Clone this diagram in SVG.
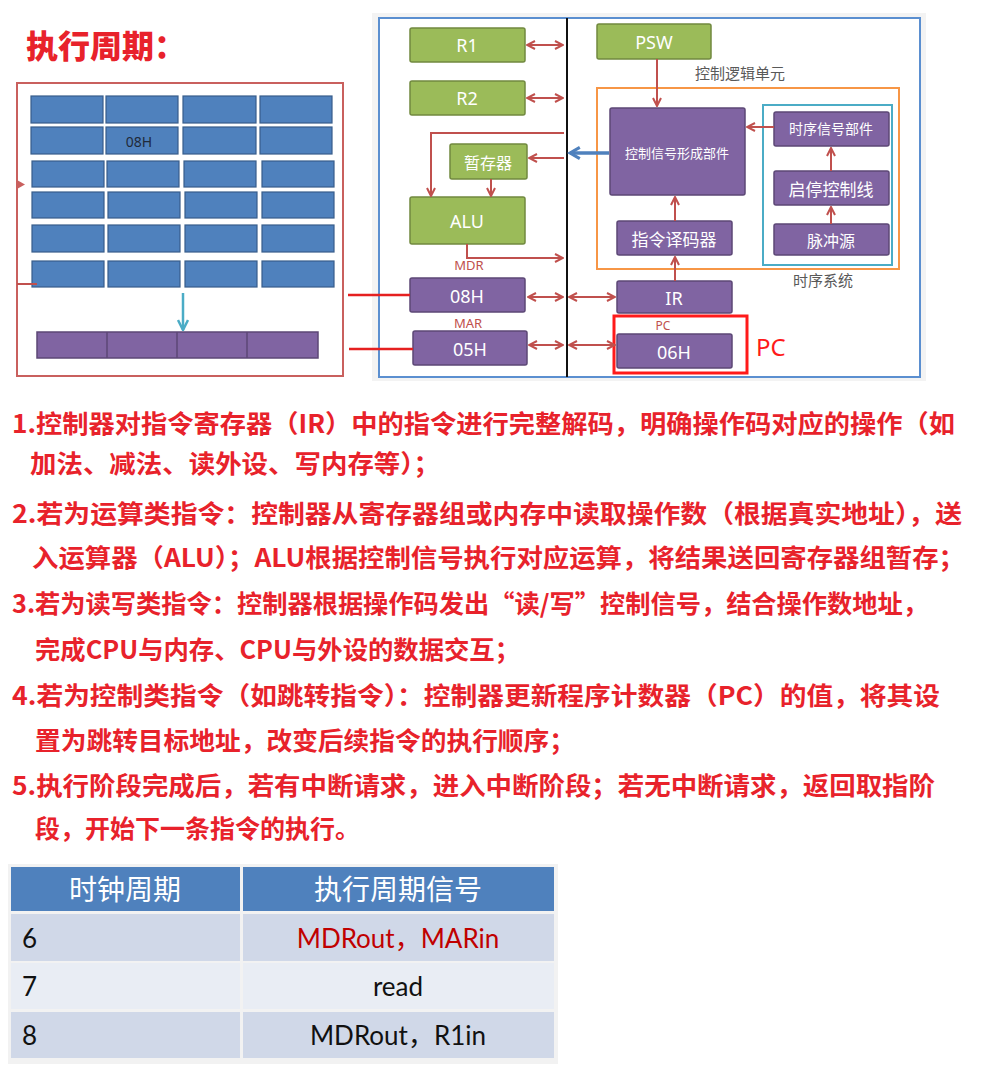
<svg xmlns="http://www.w3.org/2000/svg" width="986" height="1071" viewBox="0 0 986 1071">
<defs>
<style>
.g{fill:#9bbb59;stroke:#71893f;stroke-width:1.5}
.p{fill:#8064a2;stroke:#5c4776;stroke-width:1.5}
.b{fill:#4f81bd;stroke:#385d8a;stroke-width:1.2}
.wt{fill:#fff;font-family:"Noto Sans","Noto Sans CJK SC",sans-serif;font-size:18px;text-anchor:middle;dominant-baseline:central}
.wc{fill:#fff;font-family:"Noto Sans CJK SC",sans-serif;text-anchor:middle;dominant-baseline:central}
.lbl{fill:#c0504d;font-family:"Noto Sans",sans-serif;text-anchor:middle;dominant-baseline:central}
.gray{fill:#595959;font-family:"Noto Sans CJK SC",sans-serif;font-size:15px;dominant-baseline:central}
.ar{fill:none;stroke:#c0504d;stroke-width:2}
.para{fill:#e8222b;font-family:"Noto Sans CJK SC",sans-serif;font-weight:bold;font-size:25px}
.th{fill:#fff;font-family:"Noto Sans CJK SC",sans-serif;font-size:28px;text-anchor:middle;dominant-baseline:central}
.td{font-family:Lato,"Noto Sans","Noto Sans CJK SC",sans-serif;font-size:26px;dominant-baseline:central}
</style>
<marker id="ah" viewBox="0 0 10 10" refX="9" refY="5" markerWidth="5" markerHeight="5" orient="auto-start-reverse" markerUnits="strokeWidth">
<path d="M1,1 L9,5 L1,9" fill="none" stroke="#c0504d" stroke-width="2"/>
</marker>
<marker id="ahb" viewBox="0 0 10 10" refX="8" refY="5" markerWidth="4" markerHeight="4" orient="auto" markerUnits="strokeWidth">
<path d="M1,1 L8,5 L1,9" fill="none" stroke="#4f81bd" stroke-width="2.2"/>
</marker>
<marker id="aht" viewBox="0 0 10 10" refX="9" refY="5" markerWidth="5" markerHeight="5" orient="auto" markerUnits="strokeWidth">
<path d="M1,1 L9,5 L1,9" fill="none" stroke="#4bacc6" stroke-width="2"/>
</marker>
</defs>
<rect width="986" height="1071" fill="#fff"/>

<text x="26" y="58" fill="#e8222b" font-family="Noto Sans CJK SC,sans-serif" font-weight="900" font-size="32">执行周期：</text>

<g id="memory">
<rect x="17" y="83" width="326" height="293" fill="#fff" stroke="#c9605e" stroke-width="2"/>
<g class="b">
<rect x="31" y="96" width="72" height="27"/><rect x="106" y="96" width="72" height="27"/><rect x="183" y="96" width="73" height="27"/><rect x="260" y="96" width="72" height="27"/>
<rect x="31" y="127" width="72" height="27"/><rect x="106" y="127" width="72" height="27"/><rect x="183" y="127" width="73" height="27"/><rect x="260" y="127" width="72" height="27"/>
<rect x="32" y="161" width="72" height="26"/><rect x="107" y="161" width="72" height="26"/><rect x="184" y="161" width="72" height="26"/><rect x="262" y="161" width="72" height="26"/>
<rect x="32" y="192" width="72" height="26"/><rect x="108" y="192" width="72" height="26"/><rect x="185" y="192" width="72" height="26"/><rect x="262" y="192" width="72" height="26"/>
<rect x="32" y="225" width="72" height="27"/><rect x="108" y="225" width="72" height="27"/><rect x="185" y="225" width="72" height="27"/><rect x="262" y="225" width="72" height="27"/>
<rect x="32" y="261" width="72" height="26"/><rect x="108" y="261" width="72" height="26"/><rect x="185" y="261" width="72" height="26"/><rect x="262" y="261" width="72" height="26"/>
</g>
<text x="139" y="141" fill="#1f2a3a" font-family="Noto Sans,sans-serif" font-size="14" text-anchor="middle" dominant-baseline="central">08H</text>
<polygon points="17,180 25,184.5 17,189" fill="#c9605e"/>
<line x1="17" y1="284" x2="37" y2="284" stroke="#c0504d" stroke-width="2"/>
<line x1="183" y1="293" x2="183" y2="330" stroke="#4bacc6" stroke-width="2.5" marker-end="url(#aht)"/>
<rect x="37" y="332" width="281" height="26" class="p"/>
<line x1="107" y1="332" x2="107" y2="358" stroke="#5c4776" stroke-width="1.5"/>
<line x1="177" y1="332" x2="177" y2="358" stroke="#5c4776" stroke-width="1.5"/>
<line x1="247" y1="332" x2="247" y2="358" stroke="#5c4776" stroke-width="1.5"/>
</g>

<g id="cpu-frame">
<rect x="372" y="13" width="554" height="368" fill="#f3f3f3"/>
<rect x="379" y="18" width="541" height="359" fill="#fff" stroke="#5b8fd0" stroke-width="2"/>
<line x1="567" y1="18" x2="567" y2="377" stroke="#111" stroke-width="2"/>
<rect x="597" y="88" width="302" height="181" fill="none" stroke="#f79646" stroke-width="2"/>
<rect x="763" y="105" width="129" height="160" fill="none" stroke="#4bacc6" stroke-width="2"/>
<text x="695" y="72" class="gray">控制逻辑单元</text>
<text x="793" y="279" class="gray">时序系统</text>
</g>

<g id="R1"><rect x="410" y="28" width="115" height="34" rx="2" class="g"/><text x="467" y="45" class="wt">R1</text></g>
<g id="R2"><rect x="410" y="81" width="115" height="34" rx="2" class="g"/><text x="467" y="98" class="wt">R2</text></g>
<g id="PSW"><rect x="597" y="24" width="114" height="35" rx="2" class="g"/><text x="654" y="42" class="wt">PSW</text></g>
<g id="temp"><rect x="450" y="144" width="77" height="35" rx="2" class="g"/><text x="488" y="162" class="wc" font-size="16">暂存器</text></g>
<g id="ALU"><rect x="410" y="197" width="115" height="47" rx="2" class="g"/><text x="467" y="221" class="wt">ALU</text></g>
<g id="MDR"><text x="469" y="265" class="lbl" font-size="13">MDR</text><rect x="410" y="278" width="115" height="34" rx="2" class="p"/><text x="467" y="296" class="wt">08H</text></g>
<g id="MAR"><text x="468" y="323" class="lbl" font-size="13">MAR</text><rect x="413" y="331" width="114" height="34" rx="2" class="p"/><text x="470" y="349" class="wt">05H</text></g>
<g id="ctrl"><rect x="610" y="108" width="135" height="87" rx="2" class="p"/><text x="677" y="152" class="wc" font-size="13">控制信号形成部件</text></g>
<g id="timing"><rect x="774" y="112" width="115" height="34" rx="2" class="p"/><text x="831" y="128" class="wc" font-size="14">时序信号部件</text></g>
<g id="startstop"><rect x="774" y="171" width="115" height="34" rx="2" class="p"/><text x="831" y="188" class="wc" font-size="17">启停控制线</text></g>
<g id="pulse"><rect x="774" y="224" width="115" height="31" rx="2" class="p"/><text x="831" y="240" class="wc" font-size="16">脉冲源</text></g>
<g id="decoder"><rect x="617" y="221" width="115" height="34" rx="2" class="p"/><text x="674" y="238" class="wc" font-size="17">指令译码器</text></g>
<g id="IR"><rect x="617" y="281" width="115" height="32" rx="2" class="p"/><text x="674" y="298" class="wt">IR</text></g>
<g id="PC"><text x="663" y="325" class="lbl" font-size="12">PC</text><rect x="617" y="334" width="115" height="34" rx="2" class="p"/><text x="674" y="352" class="wt">06H</text>
<rect x="614" y="316" width="133" height="57" fill="none" stroke="#ff1a1a" stroke-width="3"/>
<text x="756" y="346" fill="#ff1a1a" font-family="Noto Sans,sans-serif" font-size="24" dominant-baseline="central">PC</text></g>

<g id="connectors">
<line x1="527" y1="45" x2="563" y2="45" class="ar" marker-start="url(#ah)" marker-end="url(#ah)"/>
<line x1="527" y1="98" x2="563" y2="98" class="ar" marker-start="url(#ah)" marker-end="url(#ah)"/>
<line x1="657" y1="59" x2="657" y2="106" class="ar" marker-end="url(#ah)"/>
<path d="M564,133 H431 V196" class="ar" marker-end="url(#ah)"/>
<line x1="564" y1="158" x2="529" y2="158" class="ar" marker-end="url(#ah)"/>
<line x1="491" y1="179" x2="491" y2="196" class="ar" marker-end="url(#ah)"/>
<line x1="609" y1="153" x2="570" y2="153" stroke="#4f81bd" stroke-width="3.5" marker-end="url(#ahb)"/>
<line x1="774" y1="127" x2="747" y2="127" class="ar" marker-end="url(#ah)"/>
<line x1="831" y1="171" x2="831" y2="148" class="ar" marker-end="url(#ah)"/>
<line x1="831" y1="224" x2="831" y2="207" class="ar" marker-end="url(#ah)"/>
<line x1="675" y1="221" x2="675" y2="197" class="ar" marker-end="url(#ah)"/>
<line x1="675" y1="281" x2="675" y2="257" class="ar" marker-end="url(#ah)"/>
<path d="M467,244 V258 H563" class="ar" marker-end="url(#ah)"/>
<line x1="528" y1="297" x2="563" y2="297" class="ar" marker-start="url(#ah)" marker-end="url(#ah)"/>
<line x1="569" y1="297" x2="615" y2="297" class="ar" marker-start="url(#ah)" marker-end="url(#ah)"/>
<line x1="529" y1="345" x2="563" y2="345" class="ar" marker-start="url(#ah)" marker-end="url(#ah)"/>
<line x1="569" y1="345" x2="615" y2="345" class="ar" marker-start="url(#ah)" marker-end="url(#ah)"/>
<line x1="348" y1="295" x2="410" y2="295" stroke="#e52020" stroke-width="2.5"/>
<line x1="349" y1="349" x2="413" y2="349" stroke="#e52020" stroke-width="2.5"/>
</g>

<g id="steps" class="para">
<text x="12" y="433" textLength="943" lengthAdjust="spacingAndGlyphs">1.控制器对指令寄存器（IR）中的指令进行完整解码，明确操作码对应的操作（如</text>
<text x="30" y="473" textLength="410" lengthAdjust="spacingAndGlyphs">加法、减法、读外设、写内存等）；</text>
<text x="12" y="523" textLength="950" lengthAdjust="spacingAndGlyphs">2.若为运算类指令：控制器从寄存器组或内存中读取操作数（根据真实地址），送</text>
<text x="32" y="567" textLength="933" lengthAdjust="spacingAndGlyphs">入运算器（ALU）；ALU根据控制信号执行对应运算，将结果送回寄存器组暂存；</text>
<text x="12" y="613" textLength="916" lengthAdjust="spacingAndGlyphs">3.若为读写类指令：控制器根据操作码发出“读/写”控制信号，结合操作数地址，</text>
<text x="35" y="659" textLength="485" lengthAdjust="spacingAndGlyphs">完成CPU与内存、CPU与外设的数据交互；</text>
<text x="12" y="705" textLength="928" lengthAdjust="spacingAndGlyphs">4.若为控制类指令（如跳转指令）：控制器更新程序计数器（PC）的值，将其设</text>
<text x="35" y="750" textLength="540" lengthAdjust="spacingAndGlyphs">置为跳转目标地址，改变后续指令的执行顺序；</text>
<text x="12" y="795" textLength="923" lengthAdjust="spacingAndGlyphs">5.执行阶段完成后，若有中断请求，进入中断阶段；若无中断请求，返回取指阶</text>
<text x="35" y="838" textLength="325" lengthAdjust="spacingAndGlyphs">段，开始下一条指令的执行。</text>
</g>

<g id="table">
<rect x="8" y="864" width="550" height="200" fill="#f2f2f2"/>
<rect x="11" y="867" width="229" height="44" fill="#4f81bd"/>
<rect x="243" y="867" width="311" height="44" fill="#4f81bd"/>
<rect x="11" y="914" width="229" height="47" fill="#d0d8e8"/>
<rect x="243" y="914" width="311" height="47" fill="#d0d8e8"/>
<rect x="11" y="963" width="229" height="46" fill="#e9edf4"/>
<rect x="243" y="963" width="311" height="46" fill="#e9edf4"/>
<rect x="11" y="1012" width="229" height="46" fill="#d0d8e8"/>
<rect x="243" y="1012" width="311" height="46" fill="#d0d8e8"/>
<text x="125" y="888" class="th">时钟周期</text>
<text x="398" y="888" class="th">执行周期信号</text>
<text x="22" y="938" class="td" fill="#111">6</text>
<text x="398" y="938" class="td" fill="#c00000" text-anchor="middle">MDRout，MARin</text>
<text x="22" y="986" class="td" fill="#111">7</text>
<text x="398" y="986" class="td" fill="#111" text-anchor="middle">read</text>
<text x="22" y="1035" class="td" fill="#111">8</text>
<text x="398" y="1035" class="td" fill="#111" text-anchor="middle">MDRout，R1in</text>
</g>
</svg>
